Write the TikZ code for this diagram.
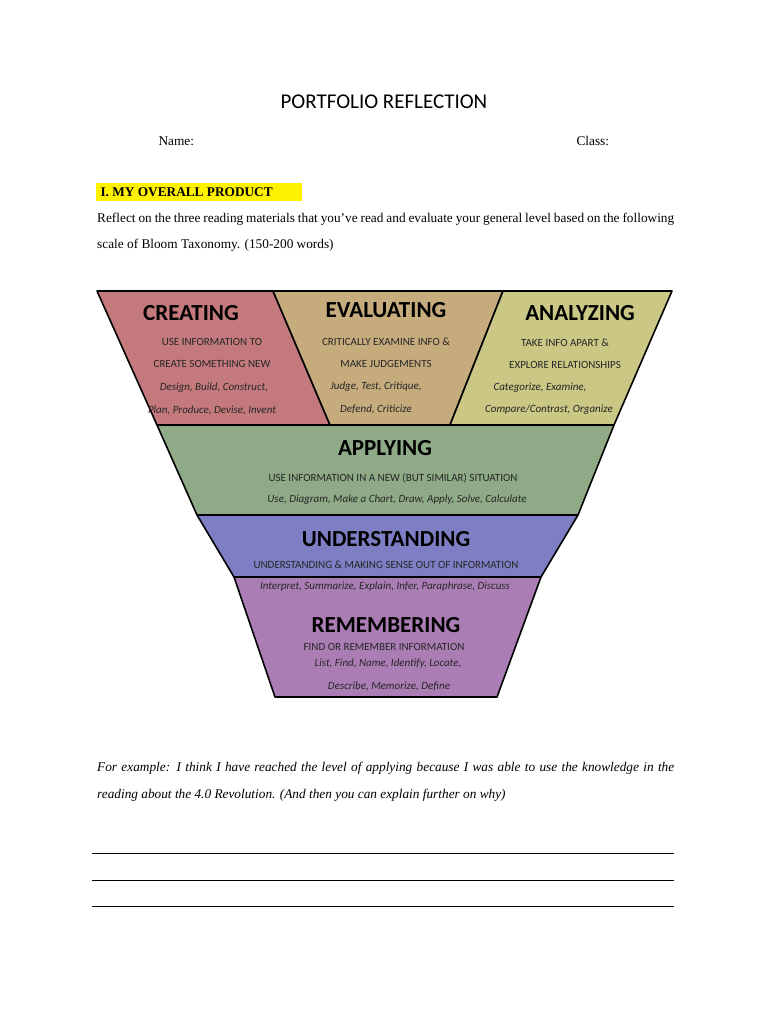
\documentclass[tikz,border=0pt]{standalone}
\usepackage{fontspec}
\setmainfont{Liberation Serif}
\newfontfamily\calfont{Carlito}
\begin{document}
\begin{tikzpicture}[x=1pt,y=-1pt,
 band/.style={draw=black,line width=1.6pt,line join=round},
 hd/.style={font=\calfont\bfseries\fontsize{23}{23}\selectfont},
 sub/.style={font=\calfont\fontsize{11}{11}\selectfont,color=black!85},
 ex/.style={font=\calfont\itshape\fontsize{11}{11}\selectfont,color=black!85},
 body/.style={font=\fontsize{13.3}{13.3}\selectfont,anchor=base west}]
\useasboundingbox (0,0) rectangle (768,1024);
\fill[white] (0,0) rectangle (768,1024);
\node (title) at (384,102) {\calfont\fontsize{21}{21}\selectfont PORTFOLIO REFLECTION};
\node[body] (name) at (155,146) {Name:};
\node[body] (class) at (573,146) {Class:};
\fill[yellow] (96,183) rectangle (302,201);
\node[body,font=\bfseries\fontsize{13.3}{13.3}\selectfont] (sec) at (97,197) {I. MY OVERALL PRODUCT};
\node[body,text width=577pt,align=justify,font=\fontsize{13.3}{25.5}\selectfont,anchor=north west,inner sep=0pt] (p1) at (97,213)
 {Reflect on the three reading materials that you've read and evaluate your general level based on the following scale of Bloom Taxonomy. (150-200 words)};
% pyramid
\path[band,fill={rgb,255:red,196;green,122;blue,124}] (97,291) -- (273,291) -- (330,425) -- (157,425) -- cycle;
\path[band,fill={rgb,255:red,198;green,172;blue,125}] (273,291) -- (503,291) -- (450,425) -- (330,425) -- cycle;
\path[band,fill={rgb,255:red,202;green,200;blue,132}] (503,291) -- (672,291) -- (614,425) -- (450,425) -- cycle;
\path[band,fill={rgb,255:red,142;green,170;blue,135}] (157,425) -- (614,425) -- (578,515) -- (197,515) -- cycle;
\path[band,fill={rgb,255:red,126;green,126;blue,196}] (197,515) -- (578,515) -- (541,577) -- (234,577) -- cycle;
\path[band,fill={rgb,255:red,170;green,126;blue,180}] (234,577) -- (541,577) -- (497,697) -- (275,697) -- cycle;
\node[hd] (cr) at (191,313) {CREATING};
\node[sub] at (212,342) {USE INFORMATION TO};
\node[sub] at (212,364) {CREATE SOMETHING NEW};
\node[ex] at (214,388) {Design, Build, Construct,};
\node[ex] at (212,410) {Plan, Produce, Devise, Invent};
\node[hd] (ev) at (386,310) {EVALUATING};
\node[sub] at (386,342) {CRITICALLY EXAMINE INFO \&};
\node[sub] at (386,364) {MAKE JUDGEMENTS};
\node[ex] at (376,387) {Judge, Test, Critique,};
\node[ex] at (376,409) {Defend, Criticize};
\node[hd] (an) at (580,313) {ANALYZING};
\node[sub] at (565,343) {TAKE INFO APART \&};
\node[sub] at (565,365) {EXPLORE RELATIONSHIPS};
\node[ex] at (540,388) {Categorize, Examine,};
\node[ex] at (549,410) {Compare/Contrast, Organize};
\node[hd] (ap) at (385,448) {APPLYING};
\node[sub] at (393,478) {USE INFORMATION IN A NEW (BUT SIMILAR) SITUATION};
\node[ex] at (397,500) {Use, Diagram, Make a Chart, Draw, Apply, Solve, Calculate};
\node[hd] (un) at (386,539) {UNDERSTANDING};
\node[sub] at (386,565) {UNDERSTANDING \& MAKING SENSE OUT OF INFORMATION};
\node[ex] at (385,587) {Interpret, Summarize, Explain, Infer, Paraphrase, Discuss};
\node[hd] (re) at (386,625) {REMEMBERING};
\node[sub] at (384,647) {FIND OR REMEMBER INFORMATION};
\node[ex] at (388,664) {List, Find, Name, Identify, Locate,};
\node[ex] at (389,686) {Describe, Memorize, Define};
% example
\node[body,text width=577pt,align=justify,font=\itshape\fontsize{13.3}{26.5}\selectfont,anchor=north west,inner sep=0pt] (p2) at (97,762)
 {For example: I think I have reached the level of applying because I was able to use the knowledge in the reading about the 4.0 Revolution. (And then you can explain further on why)};
\foreach \y/\n in {853/l1,880/l2,906/l3} \coordinate (\n a) at (92,\y);
\foreach \y/\n in {853/l1,880/l2,906/l3} \coordinate (\n b) at (674,\y);
\draw[line width=0.6pt] (l1a) -- (l1b);
\draw[line width=0.6pt] (l2a) -- (l2b);
\draw[line width=0.6pt] (l3a) -- (l3b);
\end{tikzpicture}
\end{document}
